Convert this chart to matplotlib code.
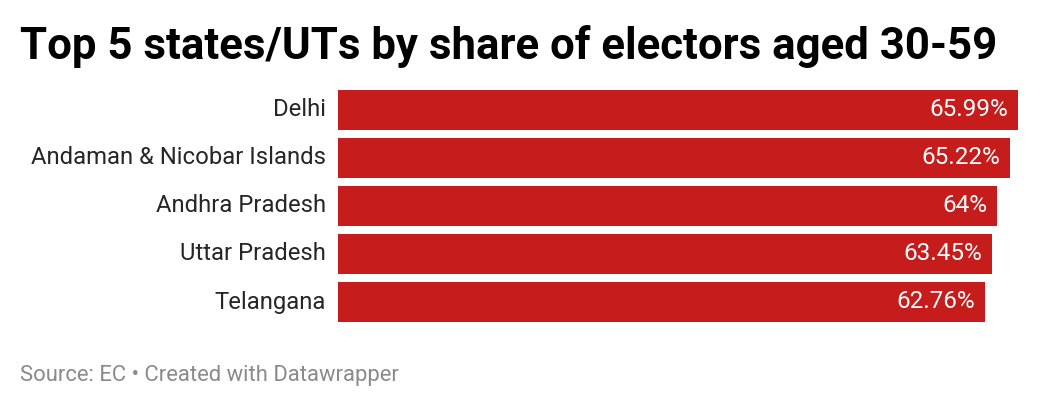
import matplotlib.pyplot as plt
from matplotlib.transforms import offset_copy

# data
states = ["Delhi", "Andaman & Nicobar Islands", "Andhra Pradesh",
          "Uttar Pradesh", "Telangana"]
shares = [65.99, 65.22, 64.0, 63.45, 62.76]
value_labels = ["65.99%", "65.22%", "64%", "63.45%", "62.76%"]

BAR_COLOR = "#c71c1c"
plt.rcParams["font.family"] = ["Roboto", "DejaVu Sans"]

W, H = 1040, 408
fig = plt.figure(figsize=(W / 100, H / 100), dpi=100)
fig.patch.set_facecolor("white")

# axes placed in pixel terms: bars x 338..1018, y 90..322
ax = fig.add_axes([338 / W, 1 - 322 / H, (1018 - 338) / W, (322 - 90) / H])
ax.barh(range(len(states)), shares, height=40 / 48, color=BAR_COLOR)
ax.set_xlim(0, max(shares))
ax.set_ylim(len(states) - 1 + 20 / 48, -20 / 48)
ax.axis("off")

# category labels, right aligned left of bars
lab_tr = offset_copy(ax.transData, fig=fig, x=-12, y=0, units="dots")
for i, s in enumerate(states):
    ax.text(0, i, s, transform=lab_tr, ha="right", va="center",
            fontsize=17.2, color="#262626")

# value labels inside bar ends
val_tr = offset_copy(ax.transData, fig=fig, x=-10, y=0, units="dots")
for i, (v, lbl) in enumerate(zip(shares, value_labels)):
    ax.text(v, i, lbl, transform=val_tr, ha="right", va="center",
            fontsize=17.5, color="white")

fig.text(20 / W, 1 - 47 / H, "Top 5 states/UTs by share of electors aged 30-59",
         ha="left", va="center", fontsize=31.5, fontweight="bold", color="black")
fig.text(20 / W, 1 - 375 / H, "Source: EC \u2022 Created with Datawrapper",
         ha="left", va="center", fontsize=15.8, color="#8a8a8a")

fig.savefig("out.png", dpi=100, facecolor="white")
